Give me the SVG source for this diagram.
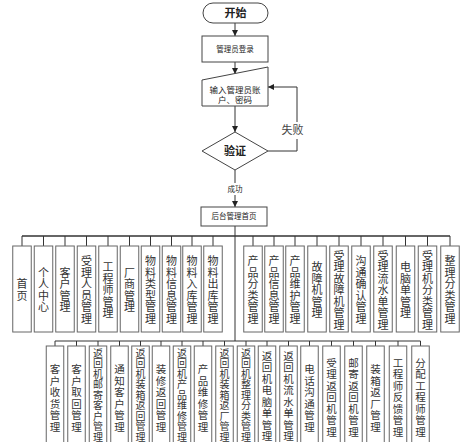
<svg xmlns="http://www.w3.org/2000/svg" width="474" height="442" viewBox="0 0 474 442">
<defs>
<style>
.bg{fill:#ffffff}
.box{fill:#ffffff;stroke:#444;stroke-width:1}
.mod{fill:#ffffff;stroke:#666;stroke-width:1}
.ln{fill:none;stroke:#333;stroke-width:1}
.bus{fill:none;stroke:#333;stroke-width:1.6}
.t{font-family:"Liberation Sans","Noto Sans CJK SC",sans-serif;fill:#222;text-anchor:middle;dominant-baseline:central}
.b{font-weight:bold;font-size:11px}
.s{font-size:7.5px}
.v{font-family:"Noto Sans CJK SC",sans-serif;font-size:11px;fill:#333}
.v2{font-family:"Noto Sans CJK SC",sans-serif;font-size:10.5px;fill:#333}
.v3{font-size:10px}
</style>
<marker id="ah" viewBox="0 0 10 10" refX="10" refY="5" markerWidth="6" markerHeight="6" orient="auto" markerUnits="userSpaceOnUse">
<path d="M0,0 L10,5 L0,10 z" fill="#222"/>
</marker>
</defs>
<rect class="bg" x="0" y="0" width="474" height="442"/>

<g id="connectors">
<line class="ln" x1="235" y1="23" x2="235" y2="36" marker-end="url(#ah)"/>
<line class="ln" x1="235" y1="62" x2="235" y2="74" marker-end="url(#ah)"/>
<line class="ln" x1="235" y1="106" x2="235" y2="132" marker-end="url(#ah)"/>
<polyline class="ln" points="268,151 297,151 297,87 268,87" marker-end="url(#ah)"/>
<line class="ln" x1="235" y1="170" x2="235" y2="207" marker-end="url(#ah)"/>
<line class="ln" x1="235" y1="226" x2="235" y2="341"/>
<line class="bus" x1="22" y1="236" x2="450" y2="236"/>
<path class="ln" d="M22,236V246M43.5,236V246M65,236V246M86.5,236V246M108,236V246M129.5,236V246M150.5,236V246M171.5,236V246M192,236V246M213,236V246M253,236V246M274,236V246M295,236V246M317,236V246M339,236V246M361,236V246M383,236V246M405.5,236V246M427.5,236V246M450,236V246"/>
<line class="ln" x1="55" y1="341" x2="420.5" y2="341"/>
<path class="ln" d="M55,341V346M76.5,341V346M98,341V346M119.5,341V346M140.5,341V346M161,341V346M182,341V346M203,341V346M224.5,341V346M246,341V346M267,341V346M288.5,341V346M309.5,341V346M331.5,341V346M353.5,341V346M375.5,341V346M398,341V346M420.5,341V346"/>
<rect x="283" y="122" width="20" height="17" fill="#ffffff"/>
<text class="t" x="292.5" y="130" style="font-size:11px;fill:#444">失败</text>
<rect x="226" y="183" width="18" height="12" fill="#ffffff"/>
<text class="t s" x="235" y="189">成功</text>
</g>

<g id="start"><rect class="box" x="203" y="3" width="65" height="20" rx="10"/><text class="t b" x="235.5" y="13">开始</text></g>
<g id="login"><rect class="box" x="202" y="36" width="66" height="26"/><text class="t s" x="235" y="49">管理员登录</text></g>
<g id="input"><polygon class="box" points="202,80 268,67 268,106 202,106"/><text class="t" style="font-size:8.5px" x="235" y="90">输入管理员账</text><text class="t" style="font-size:8.5px" x="235" y="100">户、密码</text></g>
<g id="verify"><polygon class="box" points="235,132 268,151 235,170 202,151"/><text class="t b" x="235" y="151">验证</text></g>
<g id="home"><rect class="box" x="201" y="207" width="66" height="19"/><text class="t s" x="234" y="216.5">后台管理首页</text></g>

<g id="m1"><rect class="mod" x="12.75" y="246" width="18.5" height="86"/><text class="t v" x="22 22" y="283.25 294.75">首页</text></g>
<g id="m2"><rect class="mod" x="34.25" y="246" width="18.5" height="86"/><text class="t v" x="43.5 43.5 43.5 43.5" y="271.75 283.25 294.75 306.25">个人中心</text></g>
<g id="m3"><rect class="mod" x="55.75" y="246" width="18.5" height="86"/><text class="t v" x="65 65 65 65" y="271.75 283.25 294.75 306.25">客户管理</text></g>
<g id="m4"><rect class="mod" x="77.25" y="246" width="18.5" height="86"/><text class="t v" x="86.5 86.5 86.5 86.5 86.5 86.5" y="260.25 271.75 283.25 294.75 306.25 317.75">受理人员管理</text></g>
<g id="m5"><rect class="mod" x="98.75" y="246" width="18.5" height="86"/><text class="t v" x="108 108 108 108 108" y="266 277.5 289 300.5 312">工程师管理</text></g>
<g id="m6"><rect class="mod" x="120.25" y="246" width="18.5" height="86"/><text class="t v" x="129.5 129.5 129.5 129.5" y="271.75 283.25 294.75 306.25">厂商管理</text></g>
<g id="m7"><rect class="mod" x="141.25" y="246" width="18.5" height="86"/><text class="t v" x="150.5 150.5 150.5 150.5 150.5 150.5" y="260.25 271.75 283.25 294.75 306.25 317.75">物料类型管理</text></g>
<g id="m8"><rect class="mod" x="162.25" y="246" width="18.5" height="86"/><text class="t v" x="171.5 171.5 171.5 171.5 171.5 171.5" y="260.25 271.75 283.25 294.75 306.25 317.75">物料信息管理</text></g>
<g id="m9"><rect class="mod" x="182.75" y="246" width="18.5" height="86"/><text class="t v" x="192 192 192 192 192 192" y="260.25 271.75 283.25 294.75 306.25 317.75">物料入库管理</text></g>
<g id="m10"><rect class="mod" x="203.75" y="246" width="18.5" height="86"/><text class="t v" x="213 213 213 213 213 213" y="260.25 271.75 283.25 294.75 306.25 317.75">物料出库管理</text></g>
<g id="m11"><rect class="mod" x="243.75" y="246" width="18.5" height="86"/><text class="t v" x="253 253 253 253 253 253" y="260.25 271.75 283.25 294.75 306.25 317.75">产品分类管理</text></g>
<g id="m12"><rect class="mod" x="264.75" y="246" width="18.5" height="86"/><text class="t v" x="274 274 274 274 274 274" y="260.25 271.75 283.25 294.75 306.25 317.75">产品信息管理</text></g>
<g id="m13"><rect class="mod" x="285.75" y="246" width="18.5" height="86"/><text class="t v" x="295 295 295 295 295 295" y="260.25 271.75 283.25 294.75 306.25 317.75">产品维护管理</text></g>
<g id="m14"><rect class="mod" x="307.75" y="246" width="18.5" height="86"/><text class="t v" x="317 317 317 317 317" y="266 277.5 289 300.5 312">故障机管理</text></g>
<g id="m15"><rect class="mod" x="329.75" y="246" width="18.5" height="86"/><text class="t v" x="339 339 339 339 339 339 339" y="254.5 266 277.5 289 300.5 312 323.5">受理故障机管理</text></g>
<g id="m16"><rect class="mod" x="351.75" y="246" width="18.5" height="86"/><text class="t v" x="361 361 361 361 361 361" y="260.25 271.75 283.25 294.75 306.25 317.75">沟通确认管理</text></g>
<g id="m17"><rect class="mod" x="373.75" y="246" width="18.5" height="86"/><text class="t v" x="383 383 383 383 383 383 383" y="254.5 266 277.5 289 300.5 312 323.5">受理流水单管理</text></g>
<g id="m18"><rect class="mod" x="396.25" y="246" width="18.5" height="86"/><text class="t v" x="405.5 405.5 405.5 405.5 405.5" y="266 277.5 289 300.5 312">电脑单管理</text></g>
<g id="m19"><rect class="mod" x="418.25" y="246" width="18.5" height="86"/><text class="t v" x="427.5 427.5 427.5 427.5 427.5 427.5 427.5" y="254.5 266 277.5 289 300.5 312 323.5">受理机分类管理</text></g>
<g id="m20"><rect class="mod" x="440.75" y="246" width="18.5" height="86"/><text class="t v" x="450 450 450 450 450 450" y="260.25 271.75 283.25 294.75 306.25 317.75">整理分类管理</text></g>

<g id="n1"><rect class="mod" x="46.25" y="346" width="17.5" height="100"/><text class="t v2" x="55 55 55 55 55 55" y="368.5 380 391.5 403 414.5 426">客户收货管理</text></g>
<g id="n2"><rect class="mod" x="67.75" y="346" width="17.5" height="100"/><text class="t v2" x="76.5 76.5 76.5 76.5 76.5 76.5" y="368.5 380 391.5 403 414.5 426">客户取回管理</text></g>
<g id="n3"><rect class="mod" x="89.25" y="346" width="17.5" height="100"/><text class="t v2 v3" x="98 98 98 98 98 98 98 98 98" y="352 362.5 373 383.5 394 404.5 415 425.5 436">返回机邮寄客户管理</text></g>
<g id="n4"><rect class="mod" x="110.75" y="346" width="17.5" height="100"/><text class="t v2" x="119.5 119.5 119.5 119.5 119.5 119.5" y="368.5 380 391.5 403 414.5 426">通知客户管理</text></g>
<g id="n5"><rect class="mod" x="131.75" y="346" width="17.5" height="100"/><text class="t v2 v3" x="140.5 140.5 140.5 140.5 140.5 140.5 140.5 140.5 140.5" y="352 362.5 373 383.5 394 404.5 415 425.5 436">返回机装箱返回管理</text></g>
<g id="n6"><rect class="mod" x="152.25" y="346" width="17.5" height="100"/><text class="t v2" x="161 161 161 161 161 161" y="368.5 380 391.5 403 414.5 426">装修返回管理</text></g>
<g id="n7"><rect class="mod" x="173.25" y="346" width="17.5" height="100"/><text class="t v2 v3" x="182 182 182 182 182 182 182 182 182" y="352 362.5 373 383.5 394 404.5 415 425.5 436">返回机产品维修管理</text></g>
<g id="n8"><rect class="mod" x="194.25" y="346" width="17.5" height="100"/><text class="t v2" x="203 203 203 203 203 203" y="368.5 380 391.5 403 414.5 426">产品维修管理</text></g>
<g id="n9"><rect class="mod" x="215.75" y="346" width="17.5" height="100"/><text class="t v2 v3" x="224.5 224.5 224.5 224.5 224.5 224.5 224.5 224.5 224.5" y="352 362.5 373 383.5 394 404.5 415 425.5 436">返回机装箱返厂管理</text></g>
<g id="n10"><rect class="mod" x="237.25" y="346" width="17.5" height="100"/><text class="t v2 v3" x="246 246 246 246 246 246 246 246 246" y="352 362.5 373 383.5 394 404.5 415 425.5 436">返回机整理分类管理</text></g>
<g id="n11"><rect class="mod" x="258.25" y="346" width="17.5" height="100"/><text class="t v2" x="267 267 267 267 267 267 267 267" y="355 366.5 378 389.5 401 412.5 424 435.5">返回机电脑单管理</text></g>
<g id="n12"><rect class="mod" x="279.75" y="346" width="17.5" height="100"/><text class="t v2" x="288.5 288.5 288.5 288.5 288.5 288.5 288.5 288.5" y="355 366.5 378 389.5 401 412.5 424 435.5">返回机流水单管理</text></g>
<g id="n13"><rect class="mod" x="300.75" y="346" width="17.5" height="100"/><text class="t v2" x="309.5 309.5 309.5 309.5 309.5 309.5" y="368.5 380 391.5 403 414.5 426">电话沟通管理</text></g>
<g id="n14"><rect class="mod" x="322.75" y="346" width="17.5" height="100"/><text class="t v2" x="331.5 331.5 331.5 331.5 331.5 331.5 331.5" y="362 373.5 385 396.5 408 419.5 431">受理返回机管理</text></g>
<g id="n15"><rect class="mod" x="344.75" y="346" width="17.5" height="100"/><text class="t v2" x="353.5 353.5 353.5 353.5 353.5 353.5 353.5" y="362 373.5 385 396.5 408 419.5 431">邮寄返回机管理</text></g>
<g id="n16"><rect class="mod" x="366.75" y="346" width="17.5" height="100"/><text class="t v2" x="375.5 375.5 375.5 375.5 375.5 375.5" y="368.5 380 391.5 403 414.5 426">装箱返厂管理</text></g>
<g id="n17"><rect class="mod" x="389.25" y="346" width="17.5" height="100"/><text class="t v2" x="398 398 398 398 398 398 398" y="362 373.5 385 396.5 408 419.5 431">工程师反馈管理</text></g>
<g id="n18"><rect class="mod" x="411.75" y="346" width="17.5" height="100"/><text class="t v2" x="420.5 420.5 420.5 420.5 420.5 420.5 420.5" y="362 373.5 385 396.5 408 419.5 431">分配工程师管理</text></g>
</svg>
